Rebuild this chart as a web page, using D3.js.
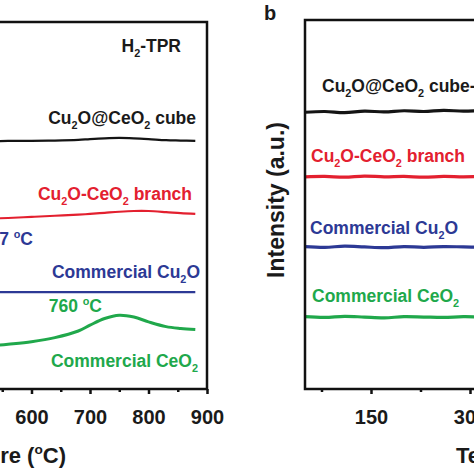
<!DOCTYPE html>
<html>
<head>
<meta charset="utf-8">
<script src="https://cdn.jsdelivr.net/npm/d3@7"></script>
<style>
  body { margin: 0; background: #fff; }
  text { font-family: "Liberation Sans", Arial, sans-serif; font-weight: bold; }
</style>
</head>
<body>
<div id="chart"></div>
<script>
/* global d3 */

// panel a: H2-TPR profiles (temperature in °C, intensity in a.u.)
const tprTemps  = [480, 520, 560, 600, 640, 680, 700, 725, 750, 775, 800, 830, 855, 880];
const tprCube   = [6.74, 6.75, 6.76, 6.76, 6.77, 6.79, 6.81, 6.83, 6.84, 6.83, 6.81, 6.78, 6.77, 6.76];
const tprBranch = [4.63, 4.64, 4.66, 4.69, 4.72, 4.75, 4.77, 4.80, 4.83, 4.85, 4.85, 4.82, 4.79, 4.77];
const tprCu2O   = [2.64, 2.64, 2.64, 2.64, 2.64, 2.64, 2.64, 2.64, 2.64, 2.64, 2.64, 2.64, 2.64, 2.64];
const tprCeO2   = [1.12, 1.16, 1.22, 1.29, 1.40, 1.58, 1.74, 1.92, 2.01, 1.96, 1.83, 1.70, 1.65, 1.62];

// panel b: flat signals vs temperature
const bTemps  = [50, 80, 110, 140, 170, 200, 230, 260, 290, 320];
const bCube   = [7.50, 7.52, 7.49, 7.53, 7.51, 7.54, 7.52, 7.55, 7.53, 7.55];
const bBranch = [5.75, 5.76, 5.74, 5.77, 5.75, 5.76, 5.74, 5.76, 5.75, 5.76];
const bCu2O   = [3.86, 3.84, 3.87, 3.85, 3.83, 3.86, 3.84, 3.86, 3.85, 3.84];
const bCeO2   = [1.96, 1.94, 1.97, 1.95, 1.93, 1.96, 1.95, 1.94, 1.96, 1.95];

const xTicksA = [600, 700, 800, 900];
const xMinorA = [550, 650, 750, 850];
const xTicksB = [150, 300, 450];
const xMinorB = [75, 225, 375];

const colors = { cube: "#141414", branch: "#e3202f", cu2o: "#2c3995", ceo2: "#20a84b" };

const W = 474, H = 474;
const fs = 17.5;
const svg = d3.select("#chart").append("svg")
    .attr("width", W).attr("height", H);

function drawLine(g, xs, ys, x, y, color, w) {
    const pts = xs.map((t, i) => [t, ys[i]]);
    g.append("path")
        .datum(pts)
        .attr("fill", "none")
        .attr("stroke", color)
        .attr("stroke-width", w)
        .attr("stroke-linejoin", "round")
        .attr("d", d3.line().curve(d3.curveCatmullRom)
            .x(d => x(d[0])).y(d => y(d[1])));
}

function bottomAxis(g, x, y0, major, minor) {
    const ax = g.append("g")
        .attr("transform", `translate(0,${y0})`)
        .call(d3.axisBottom(x).tickValues(major).tickSize(5).tickPadding(16).tickSizeOuter(0));
    ax.select(".domain").remove();
    ax.selectAll("line").attr("stroke", "#111").attr("stroke-width", 2.5);
    ax.selectAll("text").attr("font-size", 20).attr("fill", "#1a1a1a");

    const axm = g.append("g")
        .attr("transform", `translate(0,${y0})`)
        .call(d3.axisBottom(x).tickValues(minor).tickSize(3).tickFormat("").tickSizeOuter(0));
    axm.select(".domain").remove();
    axm.selectAll("line").attr("stroke", "#111").attr("stroke-width", 2.5);
}

// labels with sub/superscripts
function label(g, x, y, parts, color, size, anchor) {
    const t = g.append("text")
        .attr("x", x).attr("y", y)
        .attr("fill", color).attr("font-size", size)
        .attr("text-anchor", anchor || "start");
    parts.forEach(p => {
        if (typeof p === "string") {
            t.append("tspan").text(p);
        } else if (p.sub) {
            t.append("tspan").attr("font-size", size * 0.62)
                .attr("baseline-shift", -size * 0.28).text(p.sub);
        } else if (p.sup) {
            t.append("tspan").attr("font-size", size * 0.62)
                .attr("baseline-shift", size * 0.42).text(p.sup);
        }
    });
    return t;
}

// ---------- panel a ----------
const xA = d3.scaleLinear().domain([100, 900]).range([-261, 207]);
const yA = d3.scaleLinear().domain([0, 10]).range([389, 22]);

const gA = svg.append("g");

drawLine(gA, tprTemps, tprCube, xA, yA, colors.cube, 2.2);
drawLine(gA, tprTemps, tprBranch, xA, yA, colors.branch, 2.2);
drawLine(gA, tprTemps, tprCu2O, xA, yA, colors.cu2o, 2.2);
drawLine(gA, tprTemps, tprCeO2, xA, yA, colors.ceo2, 3);

gA.append("rect")
    .attr("x", xA(100)).attr("y", yA(10))
    .attr("width", xA(900) - xA(100)).attr("height", yA(0) - yA(10))
    .attr("fill", "none").attr("stroke", "#111").attr("stroke-width", 2.5);

bottomAxis(gA, xA, yA(0), xTicksA, xMinorA);

label(gA, 181, 52, ["H", {sub: "2"}, "-TPR"], "#1a1a1a", fs, "end");
label(gA, 196, 124, ["Cu", {sub: "2"}, "O@CeO", {sub: "2"}, " cube"], "#1a1a1a", fs, "end");
label(gA, 192, 200, ["Cu", {sub: "2"}, "O-CeO", {sub: "2"}, " branch"], colors.branch, fs, "end");
label(gA, 33, 245, ["387 ", {sup: "o"}, "C"], colors.cu2o, fs, "end");
label(gA, 200, 278, ["Commercial Cu", {sub: "2"}, "O"], colors.cu2o, fs, "end");
label(gA, 102, 312, ["760 ", {sup: "o"}, "C"], colors.ceo2, fs, "end");
label(gA, 198, 367, ["Commercial CeO", {sub: "2"}], colors.ceo2, fs, "end");
label(gA, 66, 463, ["Temperature (", {sup: "o"}, "C)"], "#1a1a1a", 22, "end");

// ---------- panel b ----------
const xB = d3.scaleLinear().domain([50, 800]).range([305, 800]);
const yB = d3.scaleLinear().domain([0, 10]).range([389, 20]);

const gB = svg.append("g");

drawLine(gB, bTemps, bCube, xB, yB, colors.cube, 3.2);
drawLine(gB, bTemps, bBranch, xB, yB, colors.branch, 3.2);
drawLine(gB, bTemps, bCu2O, xB, yB, colors.cu2o, 3.2);
drawLine(gB, bTemps, bCeO2, xB, yB, colors.ceo2, 3.2);

gB.append("rect")
    .attr("x", xB(50)).attr("y", yB(10))
    .attr("width", xB(800) - xB(50)).attr("height", yB(0) - yB(10))
    .attr("fill", "none").attr("stroke", "#111").attr("stroke-width", 2.5);

bottomAxis(gB, xB, yB(0), xTicksB, xMinorB);

label(gB, 322, 92, ["Cu", {sub: "2"}, "O@CeO", {sub: "2"}, " cube-"], "#1a1a1a", fs);
label(gB, 311, 162, ["Cu", {sub: "2"}, "O-CeO", {sub: "2"}, " branch"], colors.branch, fs);
label(gB, 310, 234, ["Commercial Cu", {sub: "2"}, "O"], colors.cu2o, fs);
label(gB, 312, 302, ["Commercial CeO", {sub: "2"}], colors.ceo2, fs);

label(gB, 270, 20, ["b"], "#1a1a1a", 20, "middle");
label(gB, 456, 463, ["Temperature (", {sup: "o"}, "C)"], "#1a1a1a", 22);

gB.append("text")
    .attr("transform", "translate(284,200) rotate(-90)")
    .attr("text-anchor", "middle")
    .attr("font-size", 23)
    .attr("fill", "#1a1a1a")
    .text("Intensity (a.u.)");
</script>
</body>
</html>
